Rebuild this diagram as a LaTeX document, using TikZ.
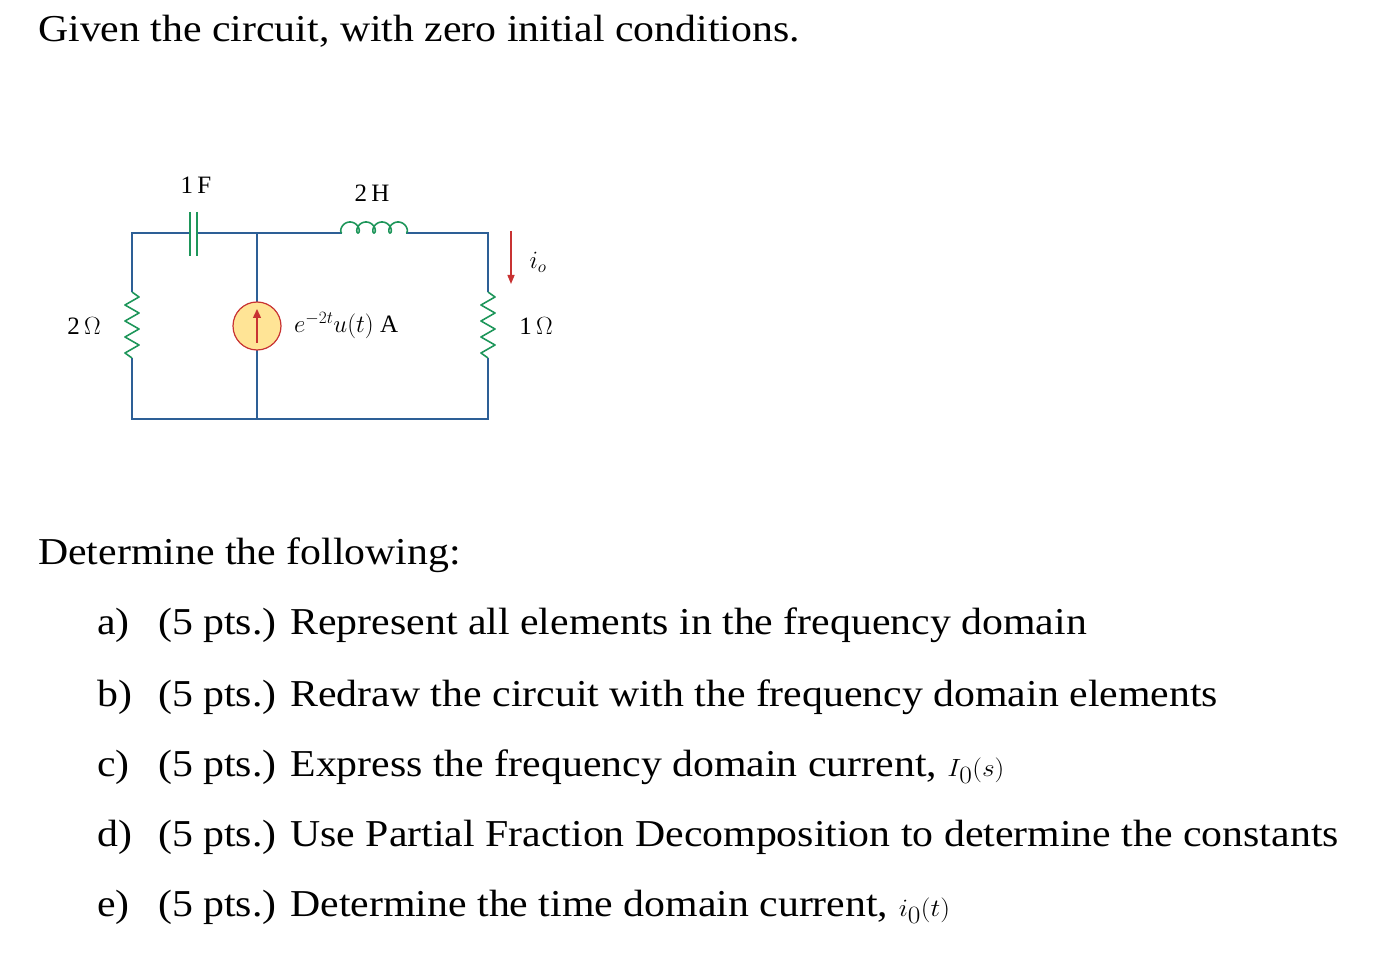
\documentclass[tikz,border=0pt]{standalone}
\usepackage{fontspec}
\setmainfont{Liberation Serif}
\usetikzlibrary{arrows.meta}
\definecolor{wire}{RGB}{45,95,150}
\definecolor{elem}{RGB}{30,150,90}
\definecolor{redc}{RGB}{200,50,50}
\definecolor{yel}{RGB}{255,228,150}
\newcommand{\wtxt}[1]{\scalebox{1.1}[1]{#1}}
\begin{document}
\begin{tikzpicture}[x=1pt,y=-1pt,
  wirest/.style={draw=wire,line width=1.6pt},
  elst/.style={draw=elem,line width=1.6pt},
  big/.style={font=\fontsize{38}{44}\selectfont,anchor=west,inner sep=0},
  lab/.style={font=\fontsize{25}{30}\selectfont,inner sep=0}]
\useasboundingbox (0,0) rectangle (1377,976);
% wires
\coordinate (tl) at (132,233); \coordinate (bl) at (132,419);
\coordinate (tm) at (257,233); \coordinate (bm) at (257,419);
\coordinate (tr) at (488,233); \coordinate (br) at (488,419);
\draw[wirest] (132,292) -- (tl) -- (190,233);
\draw[wirest] (197,233) -- (tm) -- (342,233);
\draw[wirest] (406,233) -- (tr) -- (488,292);
\draw[wirest] (132,358) -- (bl) -- (br) -- (488,358);
\draw[wirest] (tm) -- (257,302); \draw[wirest] (257,350) -- (bm);
% capacitor
\draw[elst] (190,212) -- (190,256); \draw[elst] (197,212) -- (197,256);
% inductor
\draw[elst,domain=0:25.13,samples=200,smooth] plot ({342+2.55*\x-4.5*sin(\x r)},{233-5.5*(1-cos(\x r))});
% resistors
\foreach \xx in {132,488}{
\draw[elst,line join=round] (\xx,292) -- (\xx+7,297) -- (\xx-7,305) -- (\xx+7,313) -- (\xx-7,321) -- (\xx+7,329) -- (\xx-7,337) -- (\xx+7,345) -- (\xx-7,353) -- (\xx,358);}
% source
\node[circle,draw=redc,fill=yel,line width=1.2pt,minimum size=48pt,inner sep=0] (src) at (257,326) {};
\draw[redc,line width=1.4pt,-{Triangle[length=9pt,width=8pt]}] (257,343) -- (257,309);
% io arrow
\draw[redc,line width=1.4pt,-{Triangle[length=9pt,width=7pt]}] (511,231) -- (511,284);
% labels
\node[lab] at (196,185) {1\,F};
\node[lab] at (372,193) {2\,H};
\node[lab] at (84,326) {2\,$\Omega$};
\node[lab] at (536,326) {1\,$\Omega$};
\node[lab,anchor=west] at (294,326) {$e^{-2t}u(t)$ A};
\node[lab] at (538,262) {$i_o$};
% text
\node[big] at (38,31) {\wtxt{Given the circuit, with zero initial conditions.}};
\node[big] at (38,555) {\wtxt{Determine the following:}};
\foreach \l/\t/\yy in {a)/(5 pts.) Represent all elements in the frequency domain/625,
 b)/(5 pts.) Redraw the circuit with the frequency domain elements/697,
 c)/{(5 pts.) Express the frequency domain current, $I_0(s)$}/767,
 d)/(5 pts.) Use Partial Fraction Decomposition to determine the constants/837,
 e)/{(5 pts.) Determine the time domain current, $i_0(t)$}/907}{
 \node[big] at (97,\yy) {\wtxt{\l}};
 \node[big] at (158,\yy) {\wtxt{\t}};}
\end{tikzpicture}
\end{document}
